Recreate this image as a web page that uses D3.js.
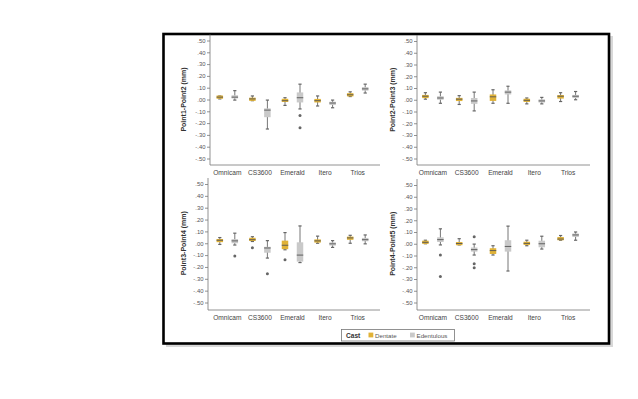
<!DOCTYPE html>
<html><head><meta charset="utf-8">
<script src="https://cdn.jsdelivr.net/npm/d3@7/dist/d3.min.js"></script>
<style>body{margin:0;background:#fff}svg{display:block}</style>
</head><body>
<svg id="c" width="638" height="399"></svg>
<script>
const scanners = ["Omnicam","CS3600","Emerald","Itero","Trios"];
const casts = ["Dentate","Edentulous"];
const yTicks = [0.5,0.4,0.3,0.2,0.1,0,-0.1,-0.2,-0.3,-0.4,-0.5];
const yTickLabels = [".50",".40",".30",".20",".10",".00","-.10","-.20","-.30","-.40","-.50"];
const panelTitles = ["Point1-Point2 (mm)","Point2-Point3 (mm)","Point3-Point4 (mm)","Point4-Point5 (mm)"];

// box stats per scanner: [low whisker, q1, median, q3, high whisker]
const p1Dentate = [[0.005,0.012,0.02,0.028,0.03],[-0.01,-0.008,0.005,0.012,0.03],[-0.05,-0.02,-0.01,0.005,0.015],[-0.055,-0.025,-0.01,0.005,0.03],[0.025,0.03,0.04,0.05,0.065]];
const p1Edentulous = [[-0.005,0.01,0.02,0.035,0.075],[-0.25,-0.15,-0.09,-0.075,-0.005],[-0.08,-0.025,0.015,0.06,0.13],[-0.07,-0.045,-0.03,-0.02,-0.005],[0.055,0.075,0.09,0.105,0.13]];
const p1DentateOut = [[],[],[],[],[]];
const p1EdentulousOut = [[],[],[-0.135,-0.24],[],[]];

const p2Dentate = [[0.005,0.015,0.03,0.04,0.06],[-0.04,-0.01,0.005,0.015,0.035],[-0.03,-0.01,0.025,0.045,0.085],[-0.035,-0.015,-0.005,0.005,0.015],[-0.015,0.01,0.03,0.04,0.06]];
const p2Edentulous = [[-0.03,0.0,0.015,0.03,0.065],[-0.095,-0.035,-0.01,0.015,0.065],[-0.03,0.045,0.065,0.08,0.115],[-0.035,-0.02,-0.01,0.0,0.02],[0.0,0.015,0.03,0.04,0.07]];
const p2DentateOut = [[],[],[],[],[]];
const p2EdentulousOut = [[],[],[],[],[]];

const p3Dentate = [[-0.01,0.01,0.025,0.035,0.048],[0.015,0.02,0.03,0.045,0.055],[-0.055,-0.05,-0.017,0.022,0.09],[0.0,0.01,0.02,0.028,0.06],[0.0,0.03,0.045,0.055,0.067]];
const p3Edentulous = [[-0.015,0.0,0.02,0.035,0.085],[-0.125,-0.08,-0.04,-0.03,0.022],[-0.163,-0.155,-0.1,0.008,0.146],[-0.035,-0.017,-0.005,0.005,0.022],[-0.005,0.017,0.03,0.045,0.07]];
const p3DentateOut = [[],[-0.037],[-0.14],[],[]];
const p3EdentulousOut = [[-0.107],[-0.258],[],[],[]];

const p4Dentate = [[0.0,0.005,0.012,0.02,0.03],[-0.01,-0.008,0.002,0.01,0.043],[-0.096,-0.087,-0.058,-0.038,-0.017],[-0.017,-0.008,0.003,0.015,0.03],[0.03,0.035,0.04,0.052,0.07]];
const p4Edentulous = [[-0.01,0.015,0.035,0.055,0.127],[-0.096,-0.067,-0.05,-0.032,-0.003],[-0.232,-0.067,-0.023,0.03,0.15],[-0.045,-0.03,0.0,0.026,0.064],[0.03,0.058,0.075,0.087,0.1]];
const p4DentateOut = [[],[],[],[],[]];
const p4EdentulousOut = [[-0.096,-0.278],[0.06,-0.17,-0.205],[],[],[]];

const panels = [
  {d:p1Dentate,e:p1Edentulous,dO:p1DentateOut,eO:p1EdentulousOut,ax:210,top:40.5,bot:158.5,base:165,x0:211,x1:374,xEnd:380,tx:186},
  {d:p2Dentate,e:p2Edentulous,dO:p2DentateOut,eO:p2EdentulousOut,ax:417,top:41,bot:158.5,base:165,x0:416,x1:585,xEnd:590,tx:395},
  {d:p3Dentate,e:p3Edentulous,dO:p3DentateOut,eO:p3EdentulousOut,ax:208,top:184,bot:302.5,base:310,x0:211,x1:374,xEnd:380,tx:186},
  {d:p4Dentate,e:p4Edentulous,dO:p4DentateOut,eO:p4EdentulousOut,ax:417,top:185,bot:302.5,base:310,x0:416,x1:585,xEnd:590,tx:395}
];
const colors = {Dentate:"#e0b237", Edentulous:"#c9c9c9"};
const FONT = "'Liberation Sans', Arial, sans-serif";

const svg = d3.select("#c");
// frame shadow + frame
svg.append("rect").attr("x",166).attr("y",36).attr("width",447).attr("height",311).attr("fill","#d8d8d8");
svg.append("rect").attr("x",163.5).attr("y",34).attr("width",445.5).attr("height",309.5)
  .attr("fill","#fff").attr("stroke","#000").attr("stroke-width",2.6);

panels.forEach((p,pi)=>{
  const g = svg.append("g");
  const y = d3.scaleLinear().domain([-0.5,0.5]).range([p.bot,p.top]);
  const x = d3.scaleBand().domain(scanners).range([p.x0,p.x1]);
  const off = d3.scaleBand().domain(casts).range([-15,15]).padding(0);
  // y axis
  const yAxis = d3.axisLeft(y).tickValues(yTicks).tickFormat((d,i)=>yTickLabels[i]).tickSize(3).tickPadding(1.5);
  const ya = g.append("g").attr("transform",`translate(${p.ax},0)`).call(yAxis);
  ya.select(".domain").attr("d",`M0,${p.top-6}V${p.base}`).attr("stroke","#777").attr("stroke-width",0.8);
  ya.selectAll(".tick line").attr("stroke","#777").attr("stroke-width",0.8);
  ya.selectAll(".tick text").attr("font-family",FONT).attr("font-size",5.9).attr("fill","#555");
  // x axis
  const xAxis = d3.axisBottom(x).tickSize(0).tickPadding(5);
  const xa = g.append("g").attr("transform",`translate(0,${p.base})`).call(xAxis);
  xa.select(".domain").attr("d",`M${p.ax},0H${p.xEnd}`).attr("stroke","#777").attr("stroke-width",0.8);
  xa.selectAll(".tick text").attr("font-family",FONT).attr("font-size",6.6).attr("fill","#444");
  // y title
  g.append("text").attr("transform",`translate(${p.tx},${(p.top+p.bot)/2}) rotate(-90)`)
    .attr("text-anchor","middle").attr("font-family",FONT).attr("font-weight","bold")
    .attr("font-size",7).attr("fill","#333").text(panelTitles[pi]);
  // boxes
  casts.forEach(c=>{
    const stats = c==="Dentate"?p.d:p.e;
    const outs = c==="Dentate"?p.dO:p.eO;
    scanners.forEach((s,i)=>{
      const cx = x(s)+x.bandwidth()/2 + off(c)+off.bandwidth()/2;
      const [lo,q1,md,q3,hi] = stats[i];
      const bw = 6.5;
      g.append("line").attr("x1",cx).attr("x2",cx).attr("y1",y(hi)).attr("y2",y(lo))
        .attr("stroke","#666").attr("stroke-width",0.9);
      [lo,hi].forEach(v=>g.append("line").attr("x1",cx-1.6).attr("x2",cx+1.6).attr("y1",y(v)).attr("y2",y(v))
        .attr("stroke","#666").attr("stroke-width",1.2));
      const h = Math.max(3.2, y(q1)-y(q3));
      const yc = (y(q1)+y(q3))/2;
      g.append("rect").attr("x",cx-bw/2).attr("y",yc-h/2).attr("width",bw).attr("height",h)
        .attr("fill",colors[c]);
      g.append("line").attr("x1",cx-bw/2).attr("x2",cx+bw/2).attr("y1",y(md)).attr("y2",y(md))
        .attr("stroke","#555").attr("stroke-width",0.9);
      outs[i].forEach(v=>g.append("circle").attr("cx",cx).attr("cy",y(v)).attr("r",1.5).attr("fill","#666"));
    });
  });
});

// legend
const lg = svg.append("g");
lg.append("rect").attr("x",341.5).attr("y",329.5).attr("width",113).attr("height",11.5)
  .attr("fill","#fff").attr("stroke","#777").attr("stroke-width",0.8);
lg.append("text").attr("x",346).attr("y",337.8).attr("font-family",FONT).attr("font-weight","bold")
  .attr("font-size",6.6).attr("fill","#333").text("Cast");
const legX = {Dentate:368.5, Edentulous:410};
casts.forEach(c=>{
  lg.append("rect").attr("x",legX[c]).attr("y",332.6).attr("width",4.8).attr("height",4.8).attr("fill",colors[c]);
  lg.append("text").attr("x",legX[c]+6.5).attr("y",337.6).attr("font-family",FONT)
    .attr("font-size",6.2).attr("fill","#555").text(c);
});
</script>
</body></html>
